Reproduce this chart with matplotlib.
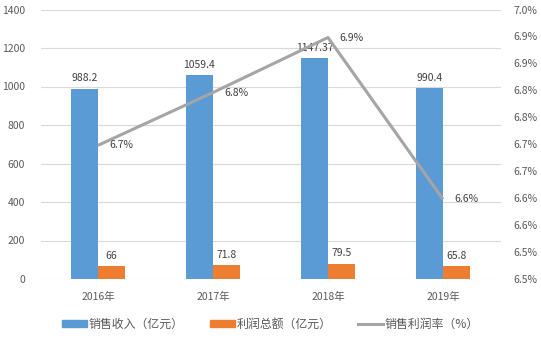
import matplotlib
matplotlib.use("Agg")
import matplotlib.pyplot as plt
from matplotlib.patches import Patch
from matplotlib.lines import Line2D
import numpy as np

plt.rcParams['font.family'] = ['Noto Sans CJK SC', 'DejaVu Sans']

categories = ['2016年', '2017年', '2018年', '2019年']
revenue = [988.2, 1059.4, 1147.37, 990.4]
revenue_labels = ['988.2', '1059.4', '1147.37', '990.4']
profit = [66, 71.8, 79.5, 65.8]
profit_labels = ['66', '71.8', '79.5', '65.8']
rate = [6.748, 6.846, 6.948, 6.648]
rate_labels = ['6.7%', '6.8%', '6.9%', '6.6%']
left_ticks = [0, 200, 400, 600, 800, 1000, 1200, 1400]
right_ticks = [6.50, 6.55, 6.60, 6.65, 6.70, 6.75, 6.80, 6.85, 6.90, 6.95, 7.00]
right_tick_labels = ['6.5%', '6.5%', '6.6%', '6.6%', '6.7%', '6.7%', '6.8%', '6.8%', '6.9%', '6.9%', '7.0%']
legend_labels = ['销售收入（亿元）', '利润总额（亿元）', '销售利润率（%）']

BLUE = '#5B9BD5'
ORANGE = '#ED7D31'
GRAY = '#A5A5A5'
TXT = '#595959'
LBL = '#404040'
GRID = '#D9D9D9'
FS = 7.5

fig = plt.figure(figsize=(5.41, 3.39), dpi=100)
ax = fig.add_axes([40.5/541, 60/339, 460/541, 269.5/339])
x = np.arange(len(categories))
w = 0.235
ax.bar(x - w/2, revenue, w, color=BLUE, zorder=2)
ax.bar(x + w/2, profit, w, color=ORANGE, zorder=2)
ax.set_xlim(-0.5, 3.5)
ax.set_ylim(0, 1400)
ax.set_yticks(left_ticks)
ax.set_yticklabels([str(t) for t in left_ticks])
ax.grid(axis='y', color=GRID, linewidth=0.8, zorder=0)
ax.set_axisbelow(True)
for s in ax.spines.values():
    s.set_visible(False)
ax.tick_params(axis='both', length=0, labelsize=FS, labelcolor=TXT)
ax.tick_params(axis='y', pad=11)
ax.tick_params(axis='x', pad=9)
ax.set_xticks(x)
ax.set_xticklabels(categories)

for xi, v, l in zip(x, revenue, revenue_labels):
    ax.annotate(l, (xi - w/2, v), xytext=(0, 4), textcoords='offset points',
                ha='center', va='bottom', fontsize=FS, color=LBL)
for xi, v, l in zip(x, profit, profit_labels):
    ax.annotate(l, (xi + w/2, v), xytext=(0, 4), textcoords='offset points',
                ha='center', va='bottom', fontsize=FS, color=LBL)

ax2 = ax.twinx()
ax2.plot(x, rate, color=GRAY, linewidth=2.2, solid_capstyle='butt', zorder=3)
ax2.set_ylim(6.5, 7.0)
ax2.set_yticks(right_ticks)
ax2.set_yticklabels(right_tick_labels)
for s in ax2.spines.values():
    s.set_visible(False)
ax2.tick_params(axis='y', length=0, labelsize=FS, labelcolor=TXT, pad=9)
for xi, v, l in zip(x, rate, rate_labels):
    ax2.annotate(l, (xi, v), xytext=(8, 0), textcoords='offset points',
                 ha='left', va='center', fontsize=FS, color=LBL)

handles = [Patch(color=BLUE), Patch(color=ORANGE), Line2D([0], [0], color=GRAY, linewidth=2.2)]
fig.legend(handles, legend_labels, loc='center', bbox_to_anchor=(0.5, 15/339), ncol=3,
           frameon=False, fontsize=8.6, labelcolor=TXT, handlelength=2.1, handleheight=0.5,
           handletextpad=0.15, columnspacing=2.2)

fig.savefig('out.png', dpi=100)
